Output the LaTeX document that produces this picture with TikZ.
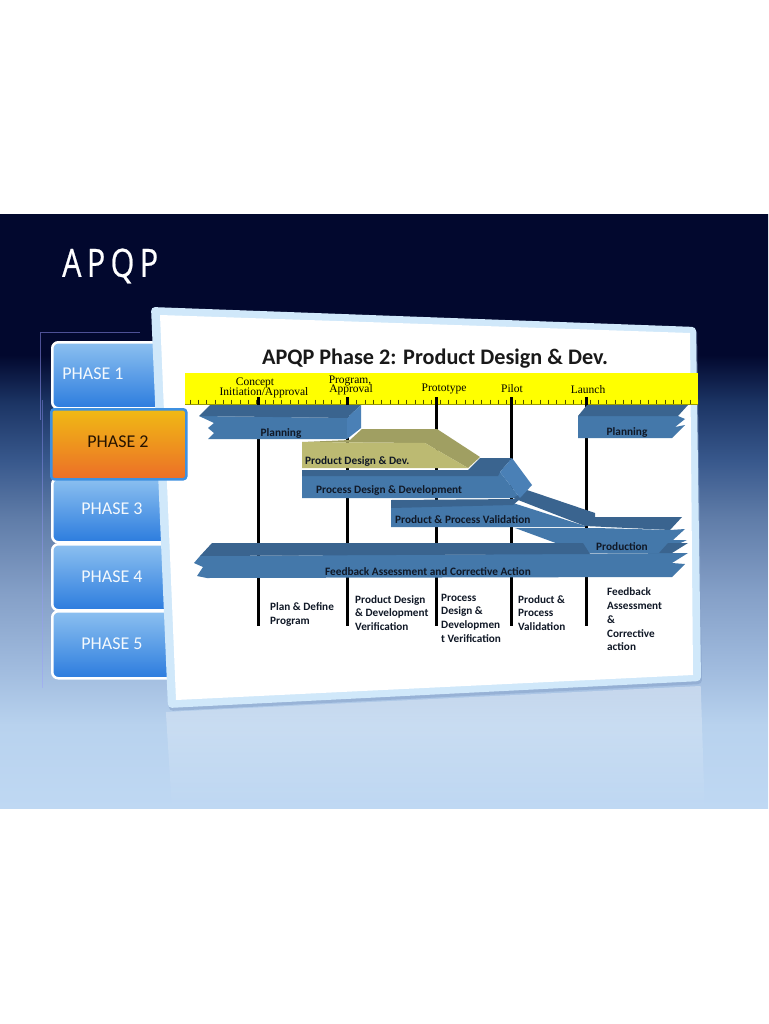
\documentclass[tikz,border=0pt]{standalone}
\usepackage{fontspec}
\setmainfont{Carlito}
\newfontfamily\serifx{Liberation Serif}
\newfontfamily\apqpfont[FakeStretch=0.78,LetterSpace=14,FakeBold=0.6]{Open Sans}
\usetikzlibrary{positioning,fadings}
\definecolor{barfront}{RGB}{68,120,170}
\definecolor{bartop}{RGB}{58,100,143}
\definecolor{barside}{RGB}{74,128,182}
\definecolor{olivefront}{RGB}{188,186,114}
\definecolor{olivetop}{RGB}{160,159,98}
\definecolor{labelink}{RGB}{16,24,38}
\definecolor{panelrim}{RGB}{208,232,250}
\definecolor{rulerfill}{RGB}{255,255,0}
\definecolor{tabhigh}{RGB}{140,192,240}
\definecolor{tablow}{RGB}{44,124,222}
\definecolor{activerim}{RGB}{62,144,224}
\definecolor{activehigh}{RGB}{240,186,20}
\definecolor{activelow}{RGB}{236,110,40}
\definecolor{backa}{RGB}{191,216,243}
\definecolor{backb}{RGB}{184,210,238}
\definecolor{backc}{RGB}{160,187,222}
\definecolor{backd}{RGB}{132,159,199}
\definecolor{backe}{RGB}{95,124,168}
\definecolor{backf}{RGB}{56,88,140}
\definecolor{backg}{RGB}{28,53,101}
\definecolor{backh}{RGB}{2,8,46}
\pgfdeclareverticalshading{slideback}{100bp}{
  color(0bp)=(backa);
  color(25bp)=(backa);
  color(32bp)=(backb);
  color(36.8bp)=(backc);
  color(43.2bp)=(backd);
  color(49.5bp)=(backe);
  color(54.3bp)=(backf);
  color(59.1bp)=(backg);
  color(63.2bp)=(backh);
  color(100bp)=(backh)}
\tikzset{
  phasebox/.style={draw=white, line width=2.5pt, rounded corners=6pt, top color=tabhigh, bottom color=tablow, minimum width=125pt},
  phaselabel/.style={text=white!90!tabhigh, font=\fontsize{18}{20}\selectfont},
  barlabel/.style={text=labelink, font=\bfseries\fontsize{11.3}{12}\selectfont, inner sep=0pt},
  notelabel/.style={text=labelink, font=\bfseries\fontsize{11.2}{13.7}\selectfont, align=left, anchor=west, inner sep=0pt},
  milestone/.style={font=\serifx\fontsize{11.5}{12}\selectfont, inner sep=0pt, text=black},
  marker/.style={line width=3pt, black}
}
\begin{document}
\begin{tikzpicture}[x=1pt, y=-1pt]
    \useasboundingbox (0,0) rectangle (768,1024);
    \fill[white] (0,0) rectangle (768,1024);
    % Slide background
    \fill[shading=slideback] (0,215) rectangle (768,808);
    \node[text=white, font=\apqpfont\fontsize{39}{40}\selectfont, anchor=west, inner sep=0pt] (slidetitle) at (62,266) {APQP};
    \draw[white!60!blue, opacity=.5, line width=.4pt] (140,332) -- (40,332) -- (40,420);
    \draw[white!60!blue, opacity=.4, line width=.4pt] (42,400) -- (42,688);

    % Reflection and phase tabs behind the panel
    \fill[white, opacity=.35, path fading=south] (166,712) -- (701,686) -- (705,808) -- (172,808) -- cycle;
    \node[phasebox, minimum height=66pt, anchor=north west] (tabone) at (51,341) {};
    \node[phasebox, minimum height=64pt, anchor=north west] (tabthree) at (51,477) {};
    \node[phasebox, minimum height=66pt, anchor=north west] (tabfour) at (51,543) {};
    \node[phasebox, minimum height=67pt, anchor=north west] (tabfive) at (51,610) {};
    \node[phaselabel] (labone) at (93,374) {PHASE 1};
    \node[phaselabel] (labthree) at (112,509) {PHASE 3};
    \node[phaselabel] (labfour) at (112,577) {PHASE 4};
    \node[phaselabel] (labfive) at (112,644) {PHASE 5};

    % Panel
    \fill[backd, opacity=.5, rounded corners=4pt] (152,309) -- (697,329) -- (702,684) -- (169,711) -- cycle;
    \fill[panelrim, rounded corners=4pt] (151,307) -- (696,327) -- (701,681) -- (168,708) -- cycle;
    \fill[white] (160,315) -- (690,333) -- (693,675) -- (176,700) -- cycle;

    % Active tab
    \node[draw=activerim, line width=2.5pt, rounded corners=3pt, top color=activehigh, bottom color=activelow, minimum width=135pt, minimum height=70pt, anchor=north west] (tabtwo) at (50,408) {};
    \node[phaselabel, text=black!85!orange] (labtwo) at (118,442) {PHASE 2};

    \node[font=\bfseries\fontsize{22.2}{24}\selectfont, text=black!90] (heading) at (435,359) {APQP Phase 2: Product Design \& Dev.};

    % Ruler
    \fill[rulerfill] (185,373) rectangle (698,404);
    \draw[rulerfill!60!black, line width=.8pt] (185,404) -- (698,404);
    \foreach \t in {0,...,60} {
        \draw[rulerfill!30!black, line width=.6pt] (190+8.33*\t,399.5) -- (190+8.33*\t,404);
    }
    \node[milestone] (concept) at (255,383) {Concept};
    \node[milestone] (initiation) at (264,393) {Initiation/Approval};
    \node[milestone] (program) at (350,381) {Program,};
    \node[milestone] (approval) at (351,390) {Approval};
    \node[milestone] (prototype) at (444,389) {Prototype};
    \node[milestone] (pilot) at (512,389) {Pilot};
    \node[milestone] (launch) at (588,390) {Launch};

    % Marker lines
    \coordinate (mark1a) at (258,397); \coordinate (mark1b) at (258,626);
    \coordinate (mark2a) at (347,397); \coordinate (mark2b) at (347,626);
    \coordinate (mark3a) at (436,397); \coordinate (mark3b) at (436,626);
    \coordinate (mark4a) at (511,397); \coordinate (mark4b) at (511,626);
    \coordinate (mark5a) at (586,397); \coordinate (mark5b) at (586,626);
    \draw[marker] (mark1a) -- (mark1b);
    \draw[marker] (mark2a) -- (mark2b);
    \draw[marker] (mark3a) -- (mark3b);
    \draw[marker] (mark4a) -- (mark4b);
    \draw[marker] (mark5a) -- (mark5b);

    % Planning, left
    \fill[barfront] (199,416) -- (347,418) -- (347,439) -- (208,439) -- (214,433) -- (208,428) -- (214,423) -- cycle;
    \fill[bartop] (210,405) -- (361,405) -- (347,418) -- (199,416) -- cycle;
    \fill[barside] (347,418) -- (361,405) -- (361,428) -- (347,439) -- cycle;

    % Planning, right
    \fill[barfront] (578,416) -- (678,416) -- (685,419) -- (675,427) -- (685,425) -- (672,438) -- (578,438) -- cycle;
    \fill[bartop] (578,416) -- (587,405) -- (688,405) -- (678,416) -- cycle;

    % Product design bar
    \fill[olivetop] (302,442) -- (350,440) -- (362,429) -- (437,429) -- (480,457) -- (468,468) -- (425,443) -- cycle;
    \fill[olivefront] (302,442) -- (425,443) -- (468,468) -- (302,468) -- cycle;

    % Process design bar
    \fill[barfront] (302,471) -- (500,472) -- (520,498) -- (302,498) -- cycle;
    \fill[bartop] (302,470) -- (468,470) -- (480,458) -- (512,458) -- (500,472) -- (498,476) -- (302,476) -- cycle;

    % Validation bar and production
    \fill[barfront] (391,527) -- (391,506) -- (513,503) -- (585,526) -- (585,527) -- cycle;
    \fill[bartop] (391,500) -- (520,499) -- (513,505) -- (391,508) -- cycle;
    \fill[bartop] (513,498) -- (527,490) -- (595,513) -- (595,517) -- (682,517) -- (670,530) -- (585,526) -- cycle;
    \fill[barfront] (515,528) -- (596,528) -- (670,530) -- (685,529) -- (673,540) -- (687,540) -- (659,553) -- (583,553) -- cycle;
    \fill[barside] (532,485) -- (512,458) -- (500,472) -- (520,498) -- cycle;

    % Feedback bar
    \fill[barfront] (200,556) -- (688,553) -- (672,563) -- (685,564) -- (672,577) -- (207,578) -- (197,576) -- (203,567) -- (194,563) -- cycle;
    \fill[bartop] (212,543) -- (583,543) -- (590,554) -- (200,556) -- cycle;
    \fill[bartop] (583,553) -- (659,553) -- (668,543) -- (688,543) -- (672,553) -- cycle;

    % Bar labels
    \node[barlabel] (planleft) at (281,433.5) {Planning};
    \node[barlabel] (planright) at (627,432.5) {Planning};
    \node[barlabel, anchor=west] (productbar) at (305,461.5) {Product Design \& Dev.};
    \node[barlabel, anchor=west] (processbar) at (316,490.5) {Process Design \& Development};
    \node[barlabel, anchor=west] (validbar) at (395,519.5) {Product \& Process Validation};
    \node[barlabel] (prodbar) at (622,546.5) {Production};
    \node[barlabel] (feedbar) at (428,571.5) {Feedback Assessment and Corrective Action};

    % Labels
    \node[notelabel] (noteplan) at (270,614.5) {Plan \& Define\\Program};
    \node[notelabel] (notedesign) at (355,613) {Product Design\\\& Development\\Verification};
    \node[notelabel] (noteprocess) at (441,618) {Process\\Design \&\\Developmen\\t Verification};
    \node[notelabel] (notevalid) at (518,613) {Product \&\\Process\\Validation};
    \node[notelabel] (notefeed) at (607,619.5) {Feedback\\Assessment\\\&\\Corrective\\action};
\end{tikzpicture}
\end{document}
